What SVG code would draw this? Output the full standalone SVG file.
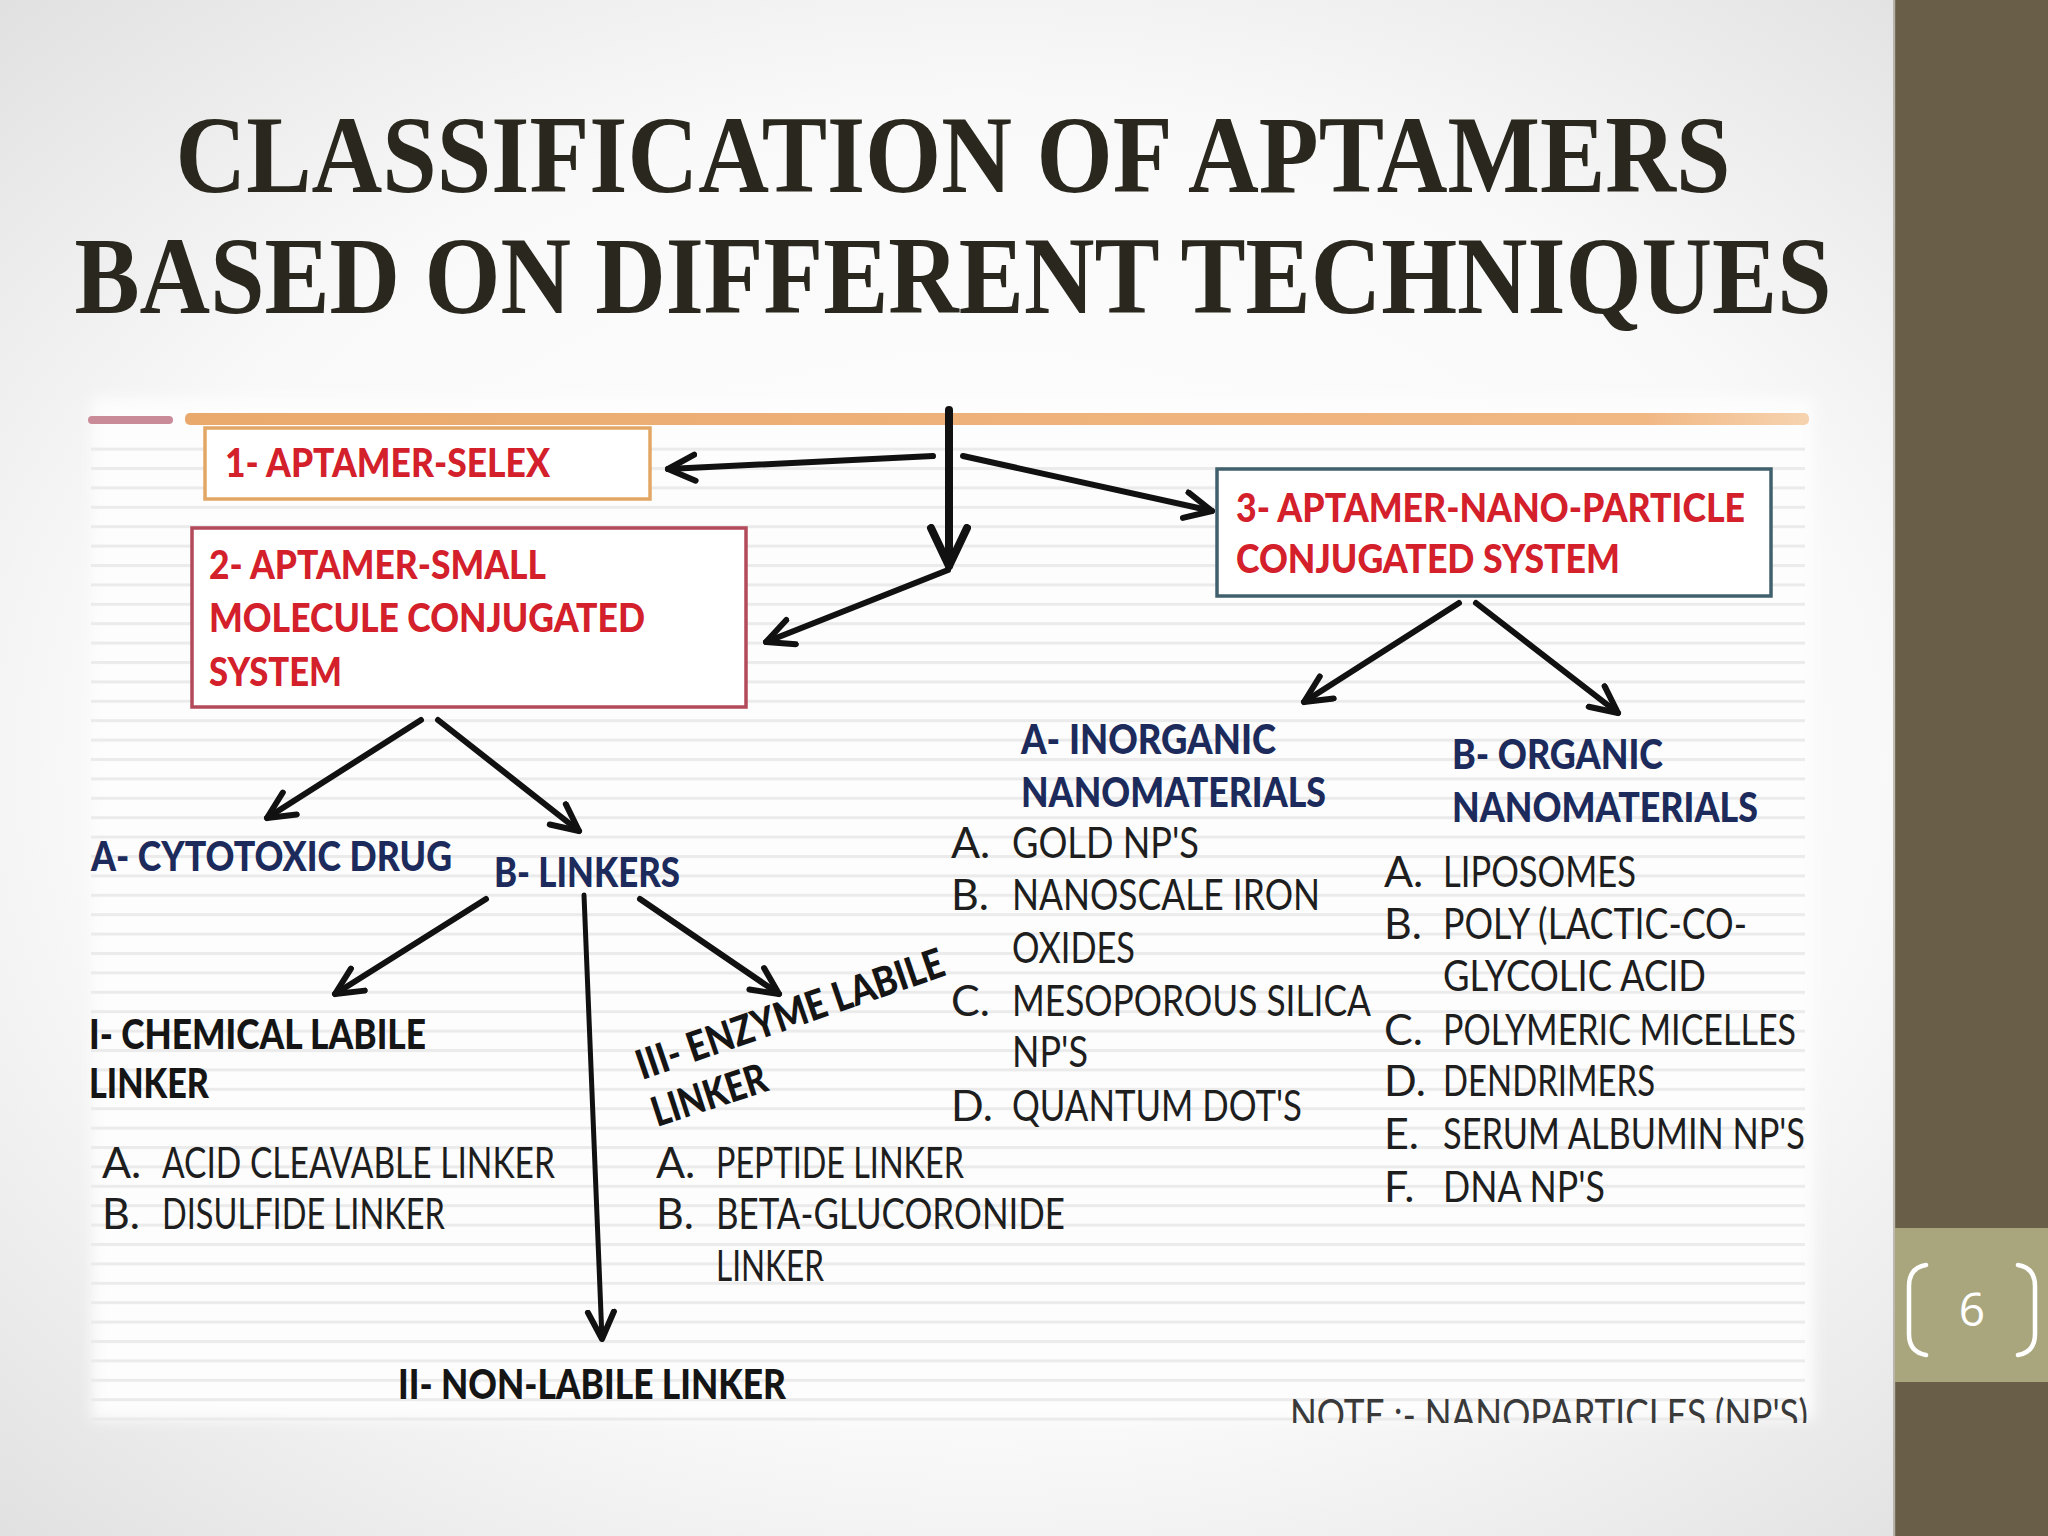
<svg xmlns="http://www.w3.org/2000/svg" width="2048" height="1536" viewBox="0 0 2048 1536">
<defs>
<radialGradient id="bg" cx="48%" cy="50%" r="72%">
<stop offset="0" stop-color="#ffffff"/>
<stop offset="0.6" stop-color="#f9f9f9"/>
<stop offset="1" stop-color="#dedede"/>
</radialGradient>
<linearGradient id="orange" x1="0" y1="0" x2="1" y2="0">
<stop offset="0" stop-color="#eaa96c"/>
<stop offset="0.9" stop-color="#f1b884"/>
<stop offset="1" stop-color="#f6d3b0"/>
</linearGradient>
<pattern id="ruled" patternUnits="userSpaceOnUse" x="0" y="1.4" width="40" height="19.4">
<rect x="0" y="0" width="40" height="3" fill="#eaeaea"/>
</pattern>
<filter id="soft" x="-5%" y="-5%" width="110%" height="110%">
<feGaussianBlur stdDeviation="7"/>
</filter>
<clipPath id="imgclip"><rect x="88" y="395" width="1730" height="1028"/></clipPath>
<marker id="ah" markerUnits="userSpaceOnUse" markerWidth="36" markerHeight="36" refX="30" refY="16" orient="auto">
<path d="M3,3 L30,16 L3,29" fill="none" stroke="#111" stroke-width="6" stroke-linecap="round" stroke-linejoin="round"/>
</marker>
<marker id="ahBig" markerUnits="userSpaceOnUse" markerWidth="48" markerHeight="46" refX="42" refY="22" orient="auto">
<path d="M4,4 L42,22 L4,40" fill="none" stroke="#111" stroke-width="8" stroke-linecap="round" stroke-linejoin="round"/>
</marker>
</defs>
<style>
.red{font-family:Lato,"Open Sans",sans-serif;font-weight:900;font-size:40px;fill:#d3202b}
.navy{font-family:Lato,"Open Sans",sans-serif;font-weight:900;font-size:41px;fill:#1c2b5b}
.blk{font-family:Lato,"Open Sans",sans-serif;font-weight:900;font-size:41px;fill:#151515}
.item{font-family:Lato,"Open Sans",sans-serif;font-weight:400;font-size:43px;fill:#1e1e1e}
.title{font-family:"Liberation Serif","Times New Roman",serif;font-weight:700;font-size:110px;fill:#2a281e}
.conn line{stroke:#111;stroke-width:6;stroke-linecap:round;fill:none}
.box{fill:#ffffff;stroke-width:3.5}
</style>

<!-- slide background -->
<rect x="0" y="0" width="2048" height="1536" fill="url(#bg)"/>
<rect x="1895" y="0" width="153" height="1536" fill="#695e47"/>
<rect x="1893" y="0" width="3" height="1536" fill="#8a8270" opacity="0.5"/>

<!-- title -->
<g id="title">
<text class="title" x="953" y="192" text-anchor="middle" textLength="1555" lengthAdjust="spacingAndGlyphs">CLASSIFICATION OF APTAMERS</text>
<text class="title" x="953" y="313" text-anchor="middle" textLength="1757" lengthAdjust="spacingAndGlyphs">BASED ON DIFFERENT TECHNIQUES</text>
</g>

<!-- embedded picture area -->
<rect x="92" y="398" width="1722" height="1022" fill="#fdfdfd" filter="url(#soft)"/>
<g id="picture-bg" clip-path="url(#imgclip)">
<rect x="91" y="432" width="1714" height="990" fill="url(#ruled)" opacity="0.95"/>
<rect x="88" y="416" width="85" height="8" rx="4" fill="#c98b97"/>
<rect x="185" y="413" width="1624" height="12" rx="5" fill="url(#orange)"/>
</g>

<!-- nodes -->
<g id="node-selex">
<rect class="box" x="205" y="428" width="445" height="71" stroke="#e3a765"/>
<text class="red" x="225" y="477" textLength="325" lengthAdjust="spacingAndGlyphs">1- APTAMER-SELEX</text>
</g>
<g id="node-small-molecule">
<rect class="box" x="192" y="528" width="554" height="179" stroke="#b24a5a"/>
<text class="red" x="209" y="579" textLength="337" lengthAdjust="spacingAndGlyphs">2- APTAMER-SMALL</text>
<text class="red" x="209" y="632" textLength="436" lengthAdjust="spacingAndGlyphs">MOLECULE CONJUGATED</text>
<text class="red" x="209" y="686" textLength="133" lengthAdjust="spacingAndGlyphs">SYSTEM</text>
</g>
<g id="node-nanoparticle">
<rect class="box" x="1217" y="469" width="554" height="127" stroke="#41606e"/>
<text class="red" x="1236" y="522" textLength="509" lengthAdjust="spacingAndGlyphs">3- APTAMER-NANO-PARTICLE</text>
<text class="red" x="1236" y="573" textLength="384" lengthAdjust="spacingAndGlyphs">CONJUGATED SYSTEM</text>
</g>

<g id="node-cytotoxic">
<text class="navy" x="91" y="871" textLength="361" lengthAdjust="spacingAndGlyphs">A- CYTOTOXIC DRUG</text>
</g>
<g id="node-linkers">
<text class="navy" x="494" y="887" textLength="186" lengthAdjust="spacingAndGlyphs">B- LINKERS</text>
</g>
<g id="node-inorganic">
<text class="navy" x="1021" y="754" textLength="255" lengthAdjust="spacingAndGlyphs">A- INORGANIC</text>
<text class="navy" x="1021" y="807" textLength="305" lengthAdjust="spacingAndGlyphs">NANOMATERIALS</text>
<text class="item" x="951" y="858">A.</text>
<text class="item" x="1012" y="858" textLength="187" lengthAdjust="spacingAndGlyphs">GOLD NP'S</text>
<text class="item" x="951" y="910">B.</text>
<text class="item" x="1012" y="910" textLength="308" lengthAdjust="spacingAndGlyphs">NANOSCALE IRON</text>
<text class="item" x="1012" y="963" textLength="123" lengthAdjust="spacingAndGlyphs">OXIDES</text>
<text class="item" x="951" y="1016">C.</text>
<text class="item" x="1012" y="1016" textLength="359" lengthAdjust="spacingAndGlyphs">MESOPOROUS SILICA</text>
<text class="item" x="1012" y="1067" textLength="76" lengthAdjust="spacingAndGlyphs">NP'S</text>
<text class="item" x="951" y="1121">D.</text>
<text class="item" x="1012" y="1121" textLength="290" lengthAdjust="spacingAndGlyphs">QUANTUM DOT'S</text>
</g>
<g id="node-organic">
<text class="navy" x="1452" y="769" textLength="211" lengthAdjust="spacingAndGlyphs">B- ORGANIC</text>
<text class="navy" x="1452" y="822" textLength="306" lengthAdjust="spacingAndGlyphs">NANOMATERIALS</text>
<text class="item" x="1384" y="887">A.</text>
<text class="item" x="1443" y="887" textLength="193" lengthAdjust="spacingAndGlyphs">LIPOSOMES</text>
<text class="item" x="1384" y="939">B.</text>
<text class="item" x="1443" y="939" textLength="304" lengthAdjust="spacingAndGlyphs">POLY (LACTIC-CO-</text>
<text class="item" x="1443" y="991" textLength="263" lengthAdjust="spacingAndGlyphs">GLYCOLIC ACID</text>
<text class="item" x="1384" y="1045">C.</text>
<text class="item" x="1443" y="1045" textLength="353" lengthAdjust="spacingAndGlyphs">POLYMERIC MICELLES</text>
<text class="item" x="1384" y="1096">D.</text>
<text class="item" x="1443" y="1096" textLength="212" lengthAdjust="spacingAndGlyphs">DENDRIMERS</text>
<text class="item" x="1384" y="1149">E.</text>
<text class="item" x="1443" y="1149" textLength="362" lengthAdjust="spacingAndGlyphs">SERUM ALBUMIN NP'S</text>
<text class="item" x="1384" y="1202">F.</text>
<text class="item" x="1443" y="1202" textLength="162" lengthAdjust="spacingAndGlyphs">DNA NP'S</text>
</g>
<g id="node-chemical-labile">
<text class="blk" x="89" y="1049" textLength="337" lengthAdjust="spacingAndGlyphs">I- CHEMICAL LABILE</text>
<text class="blk" x="89" y="1098" textLength="120" lengthAdjust="spacingAndGlyphs">LINKER</text>
<text class="item" x="102" y="1178">A.</text>
<text class="item" x="162" y="1178" textLength="393" lengthAdjust="spacingAndGlyphs">ACID CLEAVABLE LINKER</text>
<text class="item" x="102" y="1229">B.</text>
<text class="item" x="162" y="1229" textLength="283" lengthAdjust="spacingAndGlyphs">DISULFIDE LINKER</text>
</g>
<g id="node-enzyme-labile">
<text class="blk" transform="translate(642,1080) rotate(-19)" x="0" y="0" textLength="323" lengthAdjust="spacingAndGlyphs">III- ENZYME LABILE</text>
<text class="blk" transform="translate(657,1127) rotate(-18)" x="0" y="0" textLength="119" lengthAdjust="spacingAndGlyphs">LINKER</text>
<text class="item" x="656" y="1178">A.</text>
<text class="item" x="716" y="1178" textLength="248" lengthAdjust="spacingAndGlyphs">PEPTIDE LINKER</text>
<text class="item" x="656" y="1229">B.</text>
<text class="item" x="716" y="1229" textLength="349" lengthAdjust="spacingAndGlyphs">BETA-GLUCORONIDE</text>
<text class="item" x="716" y="1281" textLength="108" lengthAdjust="spacingAndGlyphs">LINKER</text>
</g>
<g id="node-non-labile">
<text class="blk" x="398" y="1399" textLength="388" lengthAdjust="spacingAndGlyphs">II- NON-LABILE LINKER</text>
</g>
<g id="note" clip-path="url(#imgclip)">
<text class="item" x="1290" y="1430" style="fill:#3a3a3a" textLength="518" lengthAdjust="spacingAndGlyphs">NOTE :- NANOPARTICLES (NP'S)</text>
</g>

<!-- connectors -->
<g id="connectors" class="conn">
<line x1="949" y1="410" x2="949" y2="566" style="stroke-width:8" marker-end="url(#ahBig)"/>
<line x1="933" y1="456" x2="668" y2="469" marker-end="url(#ah)"/>
<line x1="963" y1="456" x2="1212" y2="511" marker-end="url(#ah)"/>
<line x1="948" y1="570" x2="766" y2="642" marker-end="url(#ah)"/>
<line x1="1459" y1="603" x2="1304" y2="702" marker-end="url(#ah)"/>
<line x1="1476" y1="603" x2="1618" y2="713" marker-end="url(#ah)"/>
<line x1="421" y1="720" x2="267" y2="818" marker-end="url(#ah)"/>
<line x1="438" y1="720" x2="579" y2="831" marker-end="url(#ah)"/>
<line x1="486" y1="899" x2="335" y2="994" marker-end="url(#ah)"/>
<line x1="640" y1="899" x2="779" y2="994" marker-end="url(#ah)"/>
<line x1="584" y1="895" x2="602" y2="1339" style="stroke-width:5" marker-end="url(#ah)"/>
</g>

<!-- page number -->
<g id="page-number">
<rect x="1895" y="1228" width="153" height="154" fill="#a9a67e"/>
<path d="M1926,1265 Q1909,1268 1909,1286 L1909,1334 Q1909,1352 1926,1355" fill="none" stroke="#ffffff" stroke-width="4.5" stroke-linecap="round"/>
<path d="M2018,1265 Q2035,1268 2035,1286 L2035,1334 Q2035,1352 2018,1355" fill="none" stroke="#ffffff" stroke-width="4.5" stroke-linecap="round"/>
<text x="1972" y="1326" text-anchor="middle" font-family="'Open Sans',Lato,sans-serif" font-size="46" fill="#ffffff">6</text>
</g>
</svg>
